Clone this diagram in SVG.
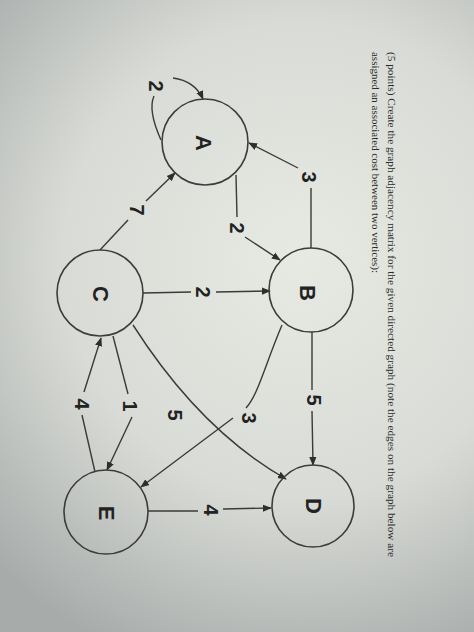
<svg xmlns="http://www.w3.org/2000/svg" width="474" height="632" viewBox="0 0 474 632">
<style>
.node circle{fill:none;stroke:#3c3c3c;stroke-width:1.6}
.node text{font-family:"Liberation Sans",Arial,sans-serif;font-weight:bold;font-size:22px;fill:#222;text-anchor:middle}
.edges path{fill:none;stroke:#3a3a3a;stroke-width:1.4}
.lbl{font-family:"Liberation Sans",Arial,sans-serif;font-weight:bold;font-size:20px;fill:#222;text-anchor:middle}
.q{font-family:"Liberation Serif","Times New Roman",serif;font-size:10.5px;fill:#2a2a2a}
</style>
<defs>
<radialGradient id="bg" cx="300" cy="260" r="430" gradientUnits="userSpaceOnUse">
<stop offset="0" stop-color="#e7e9e3"/>
<stop offset="0.55" stop-color="#d9dcd6"/>
<stop offset="1" stop-color="#a7abaa"/>
</radialGradient>
<marker id="ah" viewBox="0 0 10 10" refX="9" refY="5" markerWidth="9" markerHeight="9" markerUnits="userSpaceOnUse" orient="auto">
<path d="M0,1 L10,5 L0,9 Z" fill="#2e2e2e"/>
</marker>
</defs>
<rect x="0" y="0" width="474" height="632" fill="url(#bg)"/>
<g id="question">
<text class="q" transform="translate(388,52) rotate(90)" textLength="505" lengthAdjust="spacingAndGlyphs">(5 points) Create the graph adjacency matrix for the given directed graph (note the edges on the graph below are</text>
<text class="q" transform="translate(372,52) rotate(90)" textLength="221" lengthAdjust="spacingAndGlyphs">assigned an associated cost between two vertices):</text>
</g>
<g id="connectors" class="edges">
<path d="M161,140 C152,120 150,105 154,96"/>
<path d="M173,78 C188,80 198,88 203,99" marker-end="url(#ah)"/>
<path d="M311,248 L311,188"/>
<path d="M298,168 L249,143" marker-end="url(#ah)"/>
<path d="M236,175 L237,217"/>
<path d="M245,237 L280,260" marker-end="url(#ah)"/>
<path d="M100,250 L128,220"/>
<path d="M146,201 L175,173" marker-end="url(#ah)"/>
<path d="M143,293 L191,292"/>
<path d="M216,292 L270,291" marker-end="url(#ah)"/>
<path d="M312,332 L312,390"/>
<path d="M312,411 L313,465" marker-end="url(#ah)"/>
<path d="M282,325 C265,365 258,395 246,408"/>
<path d="M233,418 L141,487" marker-end="url(#ah)"/>
<path d="M133,325 Q200,430 286,479" marker-end="url(#ah)"/>
<path d="M113,336 L128,394"/>
<path d="M132,417 L107,470" marker-end="url(#ah)"/>
<path d="M95,472 L82,415"/>
<path d="M84,392 L101,338" marker-end="url(#ah)"/>
<path d="M148,511 L198,511"/>
<path d="M223,509 L271,508" marker-end="url(#ah)"/>
</g>
<g id="labels">
<text class="lbl" transform="translate(156,86) rotate(90)" dy="0.36em">2</text>
<text class="lbl" transform="translate(309,177) rotate(90)" dy="0.36em">3</text>
<text class="lbl" transform="translate(237,228) rotate(90)" dy="0.36em">2</text>
<text class="lbl" transform="translate(137,210) rotate(90)" dy="0.36em">7</text>
<text class="lbl" transform="translate(203,292) rotate(90)" dy="0.36em">2</text>
<text class="lbl" transform="translate(314,400) rotate(90)" dy="0.36em">5</text>
<text class="lbl" transform="translate(249,418) rotate(90)" dy="0.36em">3</text>
<text class="lbl" transform="translate(175,415) rotate(90)" dy="0.36em">5</text>
<text class="lbl" transform="translate(130,406) rotate(90)" dy="0.36em">1</text>
<text class="lbl" transform="translate(82,404) rotate(90)" dy="0.36em">4</text>
<text class="lbl" transform="translate(211,510) rotate(90)" dy="0.36em">4</text>
</g>
<g id="node-A" class="node"><circle cx="205" cy="142" r="43"/><text transform="translate(204,143) rotate(90)" dy="0.36em">A</text></g>
<g id="node-B" class="node"><circle cx="311" cy="290" r="42"/><text transform="translate(308,293) rotate(90)" dy="0.36em">B</text></g>
<g id="node-C" class="node"><circle cx="100" cy="293" r="43"/><text transform="translate(101,294) rotate(90)" dy="0.36em">C</text></g>
<g id="node-D" class="node"><circle cx="313" cy="506" r="41"/><text transform="translate(314,506) rotate(90)" dy="0.36em">D</text></g>
<g id="node-E" class="node"><circle cx="106" cy="512" r="42"/><text transform="translate(107,513) rotate(90)" dy="0.36em">E</text></g>
</svg>
